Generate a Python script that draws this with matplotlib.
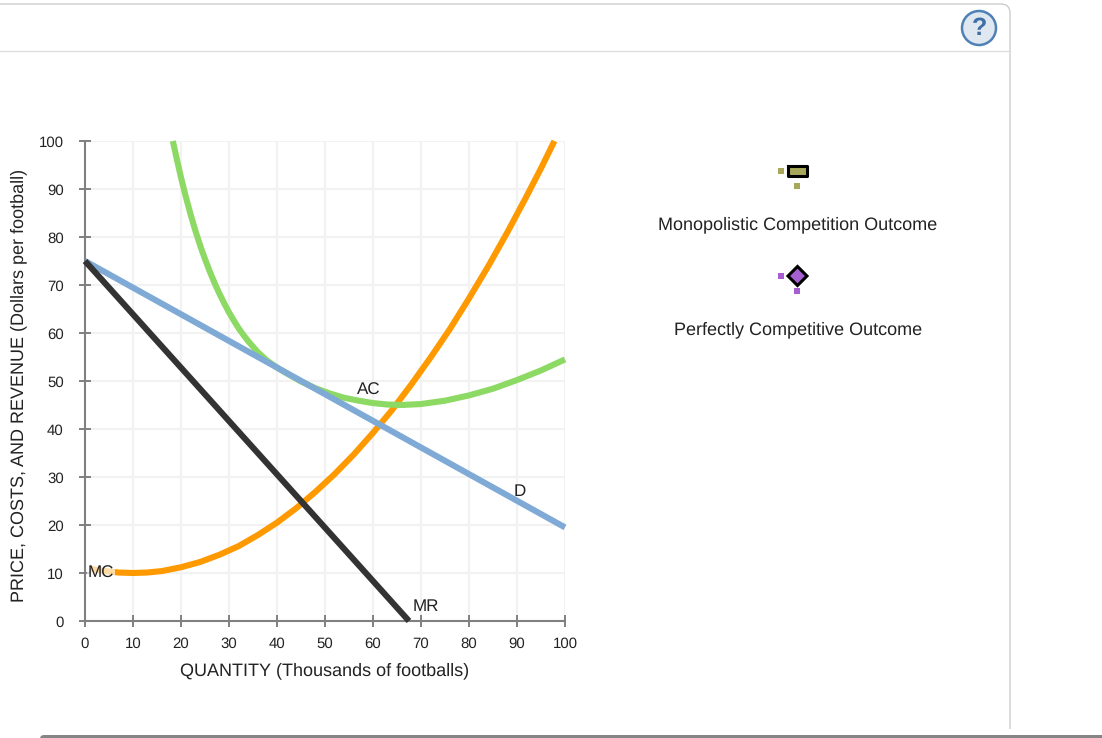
#!/usr/bin/env python3
"""
Monopolistic competition graph: MC, AC, D and MR curves with legend markers
"""

import matplotlib
matplotlib.use('Agg')
import matplotlib.pyplot as plt
from matplotlib.patches import Circle, FancyBboxPatch, PathPatch
from matplotlib.path import Path

plt.rcParams['font.family'] = ['Liberation Sans', 'DejaVu Sans']
plt.rcParams['text.hinting'] = 'no_hinting'
plt.rcParams['text.hinting_factor'] = 1

# Values
mc_q = [1, 4, 7, 10, 13, 16, 20, 24, 28, 32, 36, 40, 44, 48, 52, 56, 60, 64, 68, 72, 76, 80, 84, 88, 92, 95, 97.8]
mc_p = [10.9, 10.4, 10.1, 10, 10.1, 10.4, 11.2, 12.3, 13.8, 15.6, 17.9, 20.5, 23.5, 26.9, 30.6, 34.7, 39.2, 44,
        49.3, 54.9, 60.8, 67.2, 73.9, 81, 88.5, 94.3, 100]
ac_q = [18.3, 19, 20, 21, 22, 23, 24, 25, 26, 27, 28, 29, 30, 31, 32, 33, 34, 36, 38, 40, 42, 45, 48, 51, 54,
        57, 60, 63, 66, 70, 75, 80, 85, 90, 95, 100]
ac_p = [100, 96.8, 92.4, 88.4, 84.7, 81.3, 78.2, 75.4, 72.8, 70.4, 68.2, 66.2, 64.3, 62.6, 61, 59.6, 58.3, 56,
        54.2, 52.8, 51.6, 49.9, 48.5, 47.4, 46.5, 45.9, 45.4, 45.1, 45, 45.2, 45.9, 47, 48.4, 50.2, 52.2, 54.5]
d_q = [0, 100]
d_p = [75, 19.5]
mr_q = [0, 67.5]
mr_p = [75, 0]

ticks = list(range(0, 101, 10))
curve_labels = ['AC', 'D', 'MC', 'MR']
curve_label_q = [59.2, 90.5, 3.3, 71]
curve_label_p = [48, 27, 10, 3]

fig = plt.figure(figsize=(11.02, 7.38), dpi=100)

# Page furniture in pixel coordinates
bg = fig.add_axes([0, 0, 1, 1])
bg.set_xlim(0, 1102)
bg.set_ylim(738, 0)
bg.axis('off')
card = Path([(0, 4), (1001, 4), (1010, 4), (1010, 13), (1010, 729)],
            [Path.MOVETO, Path.LINETO, Path.CURVE3, Path.CURVE3, Path.LINETO])
bg.add_patch(PathPatch(card, facecolor='none', edgecolor='#c8c8c8', lw=0.9))
bg.plot([0, 1010], [51, 51], color='#dcdcdc', lw=0.9)
bg.add_patch(FancyBboxPatch((40, 735), 1074, 8, boxstyle='round,pad=0,rounding_size=4',
                            facecolor='#858585', edgecolor='none'))
bg.add_patch(Circle((979, 28), 17, facecolor='#dfe7f0', edgecolor='#4f81b5', lw=1.8))
bg.text(979, 28.5, '?', fontsize=18, fontweight='bold', color='#3d6fa5', ha='center', va='center')

# Legend markers
comp_color = '#a8a85a'
perf_color = '#a65fd3'
bg.plot([788, 806.5, 806.5, 788, 788], [166, 166, 175.5, 175.5, 166], color='black', lw=2.2)
bg.fill([789, 805, 805, 789], [168, 168, 174, 174], color=comp_color)
bg.plot([781, 797.3], [171, 186], ls='none', marker='s', ms=4.3, mew=0, color=comp_color)
bg.fill([797.5, 807, 797.5, 788], [266.5, 276, 285.5, 276], facecolor=perf_color, edgecolor='black', lw=2.2)
bg.plot([781, 797.3], [276, 291], ls='none', marker='s', ms=4.3, mew=0, color=perf_color)
bg.text(797.5, 225, 'Monopolistic Competition Outcome', fontsize=12.9, color='#222222', ha='center', va='center')
bg.text(798, 330, 'Perfectly Competitive Outcome', fontsize=12.9, color='#222222', ha='center', va='center')

# Main graph
ax = fig.add_axes([85 / 1102, (738 - 621) / 738, 480 / 1102, 480 / 738])
ax.patch.set_alpha(0)
ax.set_xlim(0, 100)
ax.set_ylim(0, 100)
ax.set_xticks(ticks)
ax.set_yticks(ticks)
ax.grid(True, color='#f2f2f2', lw=1.5)
ax.set_axisbelow(True)
for side in ['top', 'right']:
    ax.spines[side].set_visible(False)
for side in ['left', 'bottom']:
    ax.spines[side].set_color('#808080')
    ax.spines[side].set_linewidth(1.5)
ax.tick_params(direction='inout', length=8.6, width=1.4, color='#808080', labelcolor='#222222', labelsize=11)
ax.tick_params(axis='x', pad=7.5)
ax.tick_params(axis='y', pad=11)

line_style = dict(lw=4.4, solid_capstyle='butt', solid_joinstyle='round', clip_on=False)
ax.plot(mc_q, mc_p, color='#ff9900', zorder=3, **line_style)
ax.plot(ac_q, ac_p, color='#8cd964', zorder=3, **line_style)
ax.plot(d_q, d_p, color='#7faad6', zorder=4, **line_style)
ax.plot(mr_q, mr_p, color='#333333', zorder=5, **line_style)

for name, q, p in zip(curve_labels, curve_label_q, curve_label_p):
    box = dict(facecolor='white', alpha=0.65, edgecolor='none', pad=0.5) if name == 'MC' else None
    ax.text(q, p, name, fontsize=12.6, color='#222222', ha='center', va='center', zorder=6, bbox=box)

ax.set_xlabel('QUANTITY (Thousands of footballs)', fontsize=12.9, color='#222222', va='center')
ax.xaxis.set_label_coords(0.5, -0.103)
ax.set_ylabel('PRICE, COSTS, AND REVENUE (Dollars per football)', fontsize=12.9, color='#222222', va='center')
ax.yaxis.set_label_coords(-0.139, 0.49)

plt.savefig('out.png', dpi=100)
